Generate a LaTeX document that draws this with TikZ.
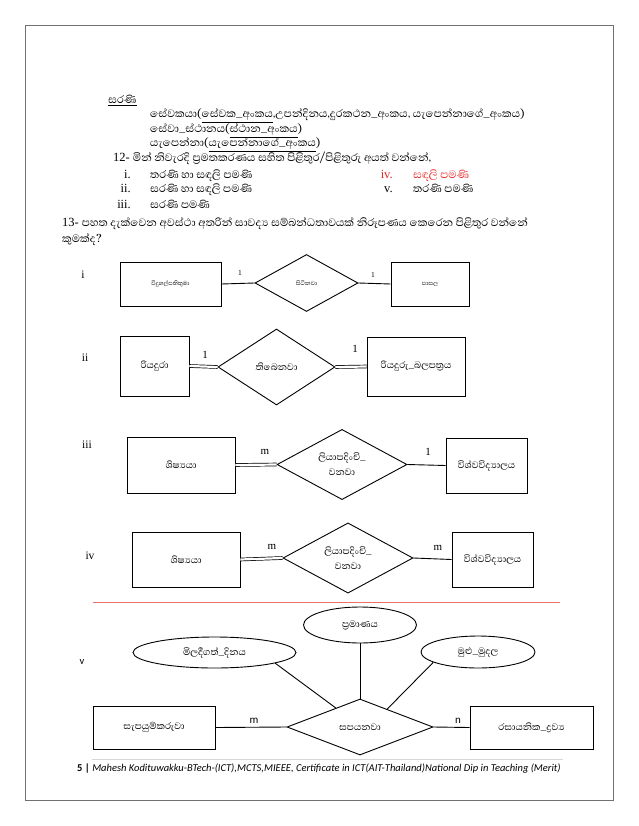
\documentclass[tikz,border=0pt]{standalone}
\usepackage{fontspec}
\setmainfont{Liberation Serif}
\newfontfamily\sifont[Script=Sinhala]{Abhaya Libre}
\newfontfamily\calib{Carlito}
\usetikzlibrary{shapes.geometric, calc}
\definecolor{framec}{RGB}{112,112,112}
\definecolor{redc}{RGB}{232,36,36}
\definecolor{rulec}{RGB}{236,112,112}
\definecolor{footc}{RGB}{214,214,214}
\newcommand{\fsz}[2]{\fontsize{#1}{#2}\selectfont}
\tikzset{
  ent/.style={rectangle, draw, line width=0.9pt, inner sep=1pt, font=\sifont\fsz{12}{13}},
  rel/.style={diamond, draw, line width=0.9pt, inner sep=0pt, align=center,
              font=\sifont\fsz{12}{15}},
  attr/.style={ellipse, draw, line width=0.9pt, inner sep=0pt, font=\sifont\fsz{12}{13}},
  card/.style={font=\fsz{11}{13}, inner sep=0pt},
  lnk/.style={line width=0.9pt},
  dbl/.style={double, double distance=2.2pt, line width=0.7pt},
  txt/.style={anchor=base west, inner sep=0pt, font=\sifont\fsz{13.7}{16}},
  num/.style={anchor=base east, inner sep=0pt, font=\fsz{12.5}{14}},
  tag/.style={inner sep=0pt, font=\fsz{11.5}{13}},
}

\begin{document}
\begin{tikzpicture}[x=1pt, y=-1pt]

  \useasboundingbox (0,0) rectangle (638,826);
  \draw[framec, line width=0.8pt] (25,25) rectangle (613,800);

  % question 12 and 13 text
  \node[txt] (hd) at (108,104) {\underline{සරණි}};
  \node[txt] (t1) at (150,118)
    {සේවකයා(\underline{සේවක\_අංකය},උපන්දිනය,දුරකථන\_අංකය, යැපෙන්නාගේ\_අංකය)};
  \node[txt] (t2) at (150,133) {සේවා\_ස්ථානය(\underline{ස්ථාන\_අංකය})};
  \node[txt] (t3) at (150,147) {යැපෙන්නා(\underline{යැපෙන්නාගේ\_අංකය})};
  \node[num, anchor=base west] (q12) at (113,162)
    {12- {\sifont\fsz{13.7}{16}මින් නිවැරදි ප්‍රමතකරණය සහිත පිළිතුර/පිළිතුරු අයත් වන්නේ,}};

  \node[num] (o1) at (131,179) {i.};
  \node[txt] (o1t) at (150,179) {තරණි හා සඳලි පමණි};
  \node[num] (o2) at (131,193) {ii.};
  \node[txt] (o2t) at (150,193) {සරණි හා සඳලි පමණි};
  \node[num] (o3) at (131,209) {iii.};
  \node[txt] (o3t) at (150,209) {සරණි පමණි};
  \node[num, text=redc] (o4) at (393,179) {iv.};
  \node[txt, text=redc] (o4t) at (413,179) {සඳලි පමණි};
  \node[num] (o5) at (393,193) {v.};
  \node[txt] (o5t) at (413,193) {තරණි පමණි};

  \node[num, anchor=base west] (q13) at (62,226)
    {13- {\sifont\fsz{13.7}{16}පහත දැක්වෙන අවස්ථා අතරින් සාවද්‍ය සම්බන්ධතාවයක් නිරූපණය කෙරෙන පිළිතුර වන්නේ}};
  \node[txt] (q13b) at (62,242) {කුමක්ද?};

  % i
  \node[tag] (l1) at (83,275) {i};
  \node[ent, minimum width=101pt, minimum height=44pt, font=\sifont\fsz{7.5}{8}] (e1) at (170.5,284) {විදුහල්පතිතුමා};
  \node[rel, minimum width=103pt, minimum height=57pt, font=\sifont\fsz{7.5}{8}] (r1) at (306.5,283) {සිටිනවා};
  \node[ent, minimum width=78pt, minimum height=44pt, font=\sifont\fsz{7.5}{8}] (e2) at (430,284) {පාසල};
  \draw[lnk] (e1.east) -- (r1.west);
  \draw[lnk] (r1.east) -- (e2.west);
  \node[card, font=\fsz{7.5}{9}] (c1) at (240,273) {1};
  \node[card, font=\fsz{7.5}{9}] (c2) at (373,275) {1};

  % ii
  \node[tag] (l2) at (85,358) {ii};
  \node[ent, minimum width=69pt, minimum height=60pt] (e3) at (154.5,366) {රියදුරා};
  \node[rel, minimum width=117pt, minimum height=76pt] (r2) at (276.5,367) {තිබෙනවා};
  \node[ent, minimum width=98pt, minimum height=59pt] (e4) at (416,366.5) {රියදුරු\_බලපත්‍රය};
  \draw[dbl] (e3.east) -- (r2.west);
  \draw[dbl] (r2.east) -- (e4.west);
  \node[card] (c3) at (205,355) {1};
  \node[card] (c4) at (355,349) {1};

  % iii
  \node[tag] (l3) at (87,445) {iii};
  \node[ent, minimum width=108pt, minimum height=56pt] (e5) at (181,465) {ශිෂ්‍යයා};
  \node[rel, minimum width=130pt, minimum height=69pt] (r3) at (342,464.5) {ලියාපදිංචි\_\\වනවා};
  \node[ent, minimum width=81pt, minimum height=55pt] (e6) at (486.5,465.5) {විශ්වවිද්‍යාලය};
  \draw[dbl] (e5.east) -- (r3.west);
  \draw[lnk] (r3.east) -- (e6.west);
  \node[card] (c5) at (265,452) {m};
  \node[card] (c6) at (428,452) {1};

  % iv
  \node[tag] (l4) at (90,556) {iv};
  \node[ent, minimum width=108pt, minimum height=55pt] (e7) at (186,559.5) {ශිෂ්‍යයා};
  \node[rel, minimum width=130pt, minimum height=70pt] (r4) at (348,558) {ලියාපදිංචි\_\\වනවා};
  \node[ent, minimum width=81pt, minimum height=55pt] (e8) at (492.5,559.5) {විශ්වවිද්‍යාලය};
  \draw[dbl] (e7.east) -- (r4.west);
  \draw[lnk] (r4.east) -- (e8.west);
  \node[card] (c7) at (272,547) {m};
  \node[card] (c8) at (438,548) {m};

  \draw[rulec, line width=0.9pt] (93,602) -- (560,602);

  % v
  \node[tag, font=\calib\fsz{10.5}{12}] (l5) at (82,662) {v};
  \node[attr, minimum width=113pt, minimum height=36pt] (a1) at (360,625) {ප්‍රමාණය};
  \node[attr, minimum width=163pt, minimum height=31pt] (a2) at (214.5,652.5) {මිලදීගත්\_දිනය};
  \node[attr, minimum width=114pt, minimum height=32pt] (a3) at (478,652) {මුළු\_මුදල};
  \node[ent, minimum width=122pt, minimum height=43pt] (e9) at (154,727.5) {සැපයුම්කරුවා};
  \node[rel, minimum width=146pt, minimum height=56pt] (r5) at (360,727) {සපයනවා};
  \node[ent, minimum width=123pt, minimum height=43pt] (e10) at (531.5,727.5) {රසායනික\_ද්‍රව්‍ය};
  \draw[lnk] (e9.east) -- (r5.west);
  \draw[lnk] (r5.east) -- (e10.west);
  \draw[lnk] (a1.south) -- (r5.north);
  \draw[lnk] (a2.-10) -- ($(r5.north)!0.33!(r5.west)$);
  \draw[lnk] (a3.-167) -- ($(r5.north)!0.37!(r5.east)$);
  \node[card, font=\calib\fsz{11}{13}] (c9) at (254,721) {m};
  \node[card, font=\calib\fsz{11}{13}] (c10) at (458,721) {n};

  % footer
  \draw[footc, line width=0.8pt] (92,759) -- (563,759);
  \node[anchor=base west, inner sep=0pt, font=\calib\fsz{10.5}{12}] (ft) at (77,771)
    {\textbf{5 |} \textit{Mahesh Kodituwakku-BTech-(ICT),MCTS,MIEEE, Certificate in ICT(AIT-Thailand)National Dip in Teaching (Merit)}};

\end{tikzpicture}
\end{document}
